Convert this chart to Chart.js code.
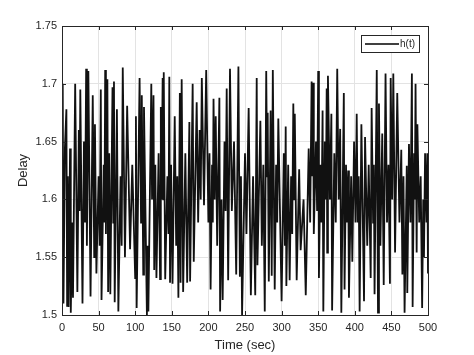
<!DOCTYPE html>
<html><head><meta charset="utf-8">
<script src="https://cdn.jsdelivr.net/npm/chart.js@4.4.1/dist/chart.umd.min.js"></script>
<style>html,body{margin:0;padding:0;background:#fff;}#wrap{width:474px;height:355px;}</style>
</head><body><div id="wrap"><canvas id="c" width="474" height="355"></canvas></div>
<script>
const seriesName = "h(t)";
const xTitle = "Time (sec)";
const yTitle = "Delay";
const xTicks = [0,50,100,150,200,250,300,350,400,450,500];
const yTicks = [1.5,1.55,1.6,1.65,1.7,1.75];
const times = [0,1,2,4,6,7,8,9,11,12,14,15,18,21,23,24,25,28,30,31.5,33,34,36,39,42,44,45,47,50,51.5,53,54,57,58,59,60,62,63,64.5,66,69,70,71,72,75,77,80,81.5,83,86,89,93,96,100,101,102,106,108,109,111,112,116,117,118,122,123,125,126,127.5,129,132,134,135,136,137.5,138.3,139,141,144,145.5,146.6,147.6,149,151,154,156,157.5,159,161,162,163.5,165.5,168.5,171,174,175,178.5,180,184,186,188,189.5,191,194,197,200,201.5,203,205,206,207,208.5,210,212,215,216,218,219.5,222,223.5,225,227,229.5,232,235,238,241,243,244.5,246,250,252,255,258,261,264,266,267,271,273,275,277,279,280.2,281,282.5,285,286.5,288,290.6,292.5,294,295.5,300,303,304.5,305.6,306.5,309,311,313,314.5,316,317.2,318,320.6,324,326,330,333,337,339,341,342,343,344,347,348.5,350,351,353,354.5,356,357,359,360.5,361.6,362.3,363.3,366,368,369,372,374,376,378,380,381.6,385,386,388,389.5,391,392,395,396.6,399,401,402.6,404,405.3,406.6,409,412.6,414,417,419,421.7,423,425,426,427,430,431.7,433,435,437.5,439.5,442,444,446,448,449,451,452.6,455,458,461,463.5,465,466.5,468,471,471.7,474,476,478,479,481,482,483,484.5,485.5,488,490,492,493.5,494.5,496,498,499,500];
const delays = [1.645,1.70,1.51,1.645,1.678,1.508,1.62,1.507,1.644,1.502,1.58,1.515,1.70,1.52,1.66,1.59,1.695,1.51,1.65,1.58,1.713,1.56,1.711,1.516,1.69,1.55,1.665,1.536,1.62,1.56,1.695,1.513,1.63,1.58,1.712,1.57,1.704,1.52,1.64,1.518,1.697,1.58,1.702,1.511,1.678,1.503,1.62,1.56,1.714,1.55,1.681,1.557,1.63,1.532,1.672,1.506,1.705,1.58,1.69,1.535,1.68,1.50,1.56,1.503,1.70,1.6,1.69,1.539,1.63,1.532,1.64,1.531,1.68,1.6,1.705,1.6,1.71,1.531,1.62,1.57,1.706,1.528,1.63,1.527,1.672,1.56,1.62,1.515,1.692,1.528,1.704,1.52,1.64,1.528,1.667,1.529,1.70,1.546,1.684,1.58,1.66,1.6,1.705,1.595,1.712,1.58,1.64,1.522,1.63,1.58,1.687,1.6,1.672,1.56,1.688,1.503,1.6,1.513,1.65,1.59,1.696,1.53,1.713,1.59,1.65,1.535,1.715,1.533,1.62,1.50,1.64,1.57,1.679,1.517,1.62,1.517,1.705,1.543,1.668,1.56,1.63,1.503,1.711,1.62,1.675,1.529,1.677,1.534,1.712,1.522,1.63,1.58,1.67,1.512,1.64,1.56,1.663,1.525,1.63,1.53,1.62,1.57,1.683,1.6,1.674,1.53,1.626,1.556,1.60,1.517,1.644,1.58,1.702,1.62,1.701,1.57,1.65,1.59,1.711,1.532,1.63,1.58,1.677,1.503,1.65,1.6,1.696,1.554,1.707,1.6,1.674,1.504,1.64,1.58,1.713,1.6,1.661,1.502,1.692,1.522,1.63,1.58,1.625,1.515,1.62,1.546,1.65,1.58,1.674,1.58,1.62,1.503,1.665,1.512,1.654,1.56,1.63,1.532,1.679,1.58,1.63,1.518,1.712,1.502,1.683,1.56,1.657,1.526,1.709,1.58,1.63,1.527,1.705,1.6,1.709,1.554,1.692,1.58,1.643,1.535,1.62,1.502,1.629,1.519,1.648,1.58,1.709,1.507,1.64,1.6,1.70,1.554,1.665,1.58,1.62,1.506,1.6,1.55,1.64,1.58,1.64,1.536];

const points = times.map((t,i)=>({x:t,y:delays[i]}));
const FONT = "'Liberation Sans', Arial, sans-serif";
const TXT = '#262626';

const frame = {
  id:'frame',
  afterDatasetsDraw(chart){
    const {ctx, chartArea:a, scales} = chart;
    ctx.save();
    ctx.strokeStyle = TXT; ctx.lineWidth = 1;
    ctx.beginPath();
    const L = 4;
    xTicks.forEach(v=>{
      const px = Math.round(scales.x.getPixelForValue(v))+0.5;
      ctx.moveTo(px,a.bottom); ctx.lineTo(px,a.bottom-L);
      ctx.moveTo(px,a.top); ctx.lineTo(px,a.top+L);
    });
    yTicks.forEach(v=>{
      const py = Math.round(scales.y.getPixelForValue(v))+0.5;
      ctx.moveTo(a.left,py); ctx.lineTo(a.left+L,py);
      ctx.moveTo(a.right,py); ctx.lineTo(a.right-L,py);
    });
    ctx.stroke();
    ctx.strokeRect(Math.round(a.left)+0.5, Math.round(a.top)+0.5, Math.round(a.right-a.left), Math.round(a.bottom-a.top));
    // legend box
    const bx = a.right-67, by = a.top+9, bw = 58, bh = 17;
    ctx.fillStyle='#fff';
    ctx.fillRect(bx,by,bw,bh);
    ctx.strokeStyle='#262626';
    ctx.strokeRect(bx+0.5,by+0.5,bw,bh);
    ctx.strokeStyle='#000'; ctx.lineWidth=1.3;
    ctx.beginPath(); ctx.moveTo(bx+4,by+9); ctx.lineTo(bx+38,by+9); ctx.stroke();
    ctx.fillStyle=TXT; ctx.font = "10px "+FONT; ctx.textBaseline='middle'; ctx.textAlign='left';
    ctx.fillText(seriesName, bx+39, by+9.5);
    ctx.restore();
  }
};

new Chart(document.getElementById('c'), {
  type:'line',
  data:{datasets:[{label:seriesName,data:points,borderColor:'#111',borderWidth:1.8,pointRadius:0,tension:0,fill:false}]},
  options:{
    responsive:false, animation:false,
    layout:{padding:{left:0,right:46,top:26,bottom:0}},
    plugins:{legend:{display:false},tooltip:{enabled:false}},
    scales:{
      x:{type:'linear',min:0,max:500,
        afterBuildTicks(s){s.ticks = xTicks.map(v=>({value:v}));},
        afterFit(s){s.height=40;},
        grid:{color:'#e3e3e3',drawTicks:false},
        border:{display:false},
        ticks:{padding:6,color:TXT,font:{family:FONT,size:11},maxRotation:0},
        title:{display:true,text:xTitle,color:TXT,font:{family:FONT,size:13},padding:{top:0,bottom:2}}
      },
      y:{type:'linear',min:1.5,max:1.75,
        afterBuildTicks(s){s.ticks = yTicks.map(v=>({value:v}));},
        afterFit(s){s.width=62;},
        grid:{color:'#e3e3e3',drawTicks:false},
        border:{display:false},
        ticks:{padding:5,color:TXT,font:{family:FONT,size:11},callback:v=>String(+v.toFixed(2))},
        title:{display:true,text:yTitle,color:TXT,font:{family:FONT,size:13},padding:{top:16,bottom:0}}
      }
    }
  },
  plugins:[frame]
});
</script></body></html>
